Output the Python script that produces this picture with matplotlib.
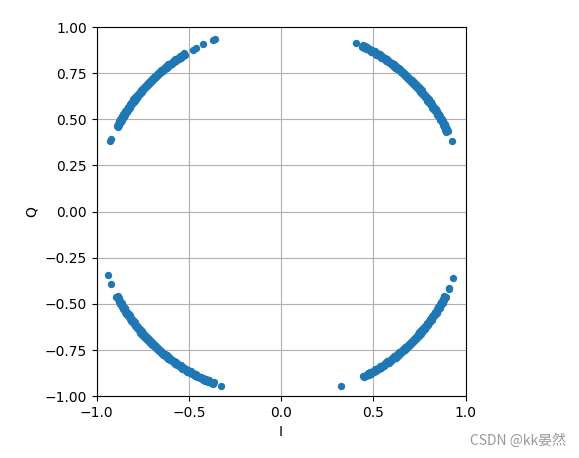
import numpy as np
import matplotlib.pyplot as plt

plt.rcParams['font.family'] = ['DejaVu Sans', 'Noto Sans CJK SC']

# phase angles (degrees) (dense part)
ang_q1 = [63.9, 63.2, 62.4, 61.5, 60.6, 59.7, 58.8, 57.9, 57.0, 56.1, 55.2, 54.3,
          53.4, 52.5, 51.6, 50.7, 49.8, 48.9, 48.0, 47.1, 46.2, 45.3, 44.4, 43.5, 42.6,
          41.7, 40.8, 39.9, 39.0, 38.1, 37.2, 36.3, 35.4, 34.5, 33.6, 32.7, 31.8, 30.9,
          30.0, 29.1, 28.2, 27.3, 26.5, 25.8]
ang_q2 = [121.4, 122.2, 123.0, 123.9, 124.8, 125.7,
          126.6, 127.5, 128.4, 129.3, 130.2, 131.1, 132.0, 132.9, 133.8, 134.7, 135.6,
          136.5, 137.4, 138.3, 139.2, 140.1, 141.0, 141.9, 142.8, 143.7, 144.6, 145.5,
          146.4, 147.3, 148.2, 149.1, 150.0, 150.9, 151.7, 152.5]
ang_q3 = [207.4, 208.2, 209.0, 209.9, 210.8, 211.7, 212.6, 213.5, 214.4,
          215.3, 216.2, 217.1, 218.0, 218.9, 219.8, 220.7, 221.6, 222.5, 223.4, 224.3,
          225.2, 226.1, 227.0, 227.9, 228.8, 229.7, 230.6, 231.5, 232.4, 233.3, 234.2,
          235.1, 236.0, 236.9, 237.8, 238.7, 239.6, 240.5, 241.4, 242.3, 243.2, 244.1,
          245.0, 245.9, 246.8, 247.7, 248.5]
ang_q4 = [296.6, 297.4, 298.2, 299.1, 300.0, 300.9, 301.8, 302.7, 303.6, 304.5,
          305.4, 306.3, 307.2, 308.1, 309.0, 309.9, 310.8, 311.7, 312.6, 313.5, 314.4,
          315.3, 316.2, 317.1, 318.0, 318.9, 319.8, 320.7, 321.6, 322.5, 323.4, 324.3,
          325.2, 326.1, 327.0, 327.9, 328.8, 329.7, 330.6, 331.5, 332.2, 332.7]
# samples lying between the ones above
mid_q1 = [63.55, 62.8, 61.95, 61.05, 60.15, 59.25, 58.35, 57.45, 56.55, 55.65, 54.75,
          53.85, 52.95, 52.05, 51.15, 50.25, 49.35, 48.45, 47.55, 46.65, 45.75, 44.85,
          43.95, 43.05, 42.15, 41.25, 40.35, 39.45, 38.55, 37.65, 36.75, 35.85, 34.95,
          34.05, 33.15, 32.25, 31.35, 30.45, 29.55, 28.65, 27.75, 26.9, 26.15]
mid_q2 = [121.8, 122.6, 123.45, 124.35, 125.25, 126.15, 127.05, 127.95, 128.85, 129.75,
          130.65, 131.55, 132.45, 133.35, 134.25, 135.15, 136.05, 136.95, 137.85, 138.75,
          139.65, 140.55, 141.45, 142.35, 143.25, 144.15, 145.05, 145.95, 146.85, 147.75,
          148.65, 149.55, 150.45, 151.3, 152.1]
mid_q3 = [207.8, 208.6, 209.45, 210.35, 211.25, 212.15, 213.05, 213.95, 214.85, 215.75,
          216.65, 217.55, 218.45, 219.35, 220.25, 221.15, 222.05, 222.95, 223.85, 224.75,
          225.65, 226.55, 227.45, 228.35, 229.25, 230.15, 231.05, 231.95, 232.85, 233.75,
          234.65, 235.55, 236.45, 237.35, 238.25, 239.15, 240.05, 240.95, 241.85, 242.75,
          243.65, 244.55, 245.45, 246.35, 247.25, 248.1]
mid_q4 = [297.0, 297.8, 298.65, 299.55, 300.45, 301.35, 302.25, 303.15, 304.05, 304.95,
          305.85, 306.75, 307.65, 308.55, 309.45, 310.35, 311.25, 312.15, 313.05, 313.95,
          314.85, 315.75, 316.65, 317.55, 318.45, 319.35, 320.25, 321.15, 322.05, 322.95,
          323.85, 324.75, 325.65, 326.55, 327.45, 328.35, 329.25, 330.15, 331.05, 331.85]
# isolated samples at the arc ends
ang_out = [65.9, 22.4, 111.0, 111.7, 114.9, 117.4, 118.6, 156.8, 157.6,
           200.0, 203.2, 251.0, 288.8, 335.1, 335.7, 338.8]
# small amplitude spread around the unit circle
radii = [0.995, 1.005]

fig = plt.figure(figsize=(5.79, 4.58), dpi=100)
ax = fig.add_axes([0.164, 0.135, 0.643, 0.806])
ax.grid(True, zorder=0)
for ang in [ang_q1, ang_q2, ang_q3, ang_q4]:
    a = np.deg2rad(np.array(ang))
    for r in radii:
        ax.scatter(r * np.cos(a), r * np.sin(a), s=28, color='#1f77b4', zorder=3,
                   linewidths=0)
for ang in [mid_q1, mid_q2, mid_q3, mid_q4] + [ang_out]:
    a = np.deg2rad(np.array(ang))
    ax.scatter(np.cos(a), np.sin(a), s=28, color='#1f77b4', zorder=3, linewidths=0)
ax.set_xlim(-1, 1)
ax.set_ylim(-1, 1)
ax.set_xticks([-1.0, -0.5, 0.0, 0.5, 1.0])
ax.set_yticks([-1.0, -0.75, -0.5, -0.25, 0.0, 0.25, 0.5, 0.75, 1.0])
ax.set_aspect('equal')
ax.set_xlabel('I')
ax.set_ylabel('Q')

fig.text(0.977, 0.022, 'CSDN @kk晏然', ha='right', va='bottom', fontsize=10,
         color='#999999', family=['Noto Sans CJK SC', 'DejaVu Sans'])
fig.savefig('out.png', dpi=100)
